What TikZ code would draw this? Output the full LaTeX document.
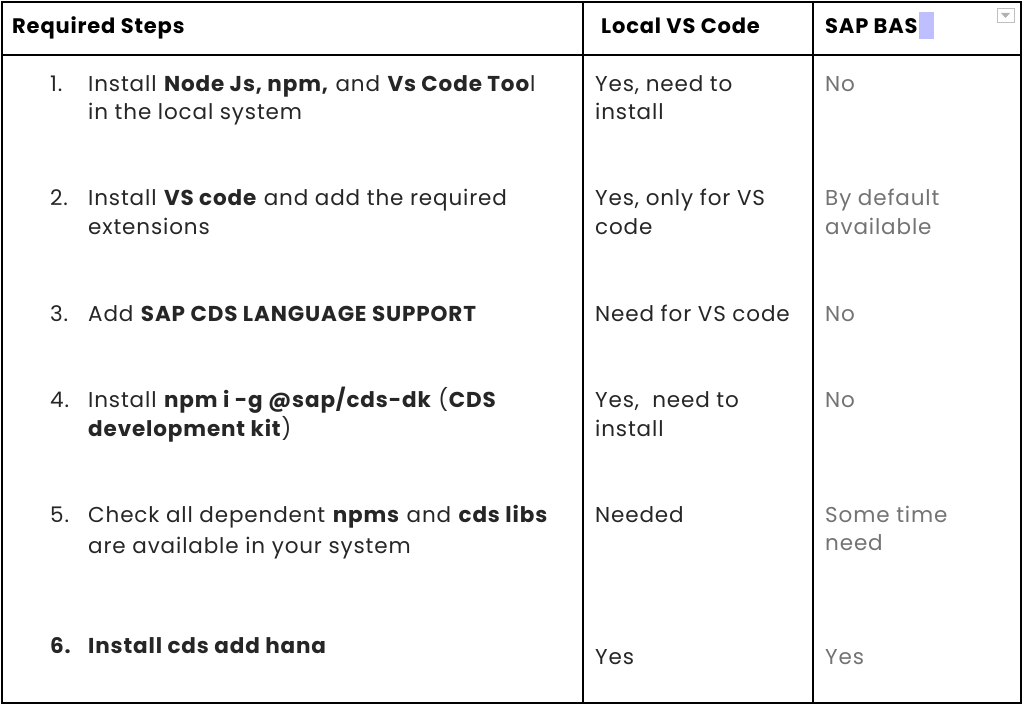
\documentclass[tikz,border=0pt]{standalone}
\usepackage{fontspec}
\setmainfont{Poppins}[LetterSpace=4]
\begin{document}
\begin{tikzpicture}[x=1pt,y=-1pt,
  txt/.style={anchor=base west,inner sep=0pt,font=\fontsize{21.5}{24}\selectfont,text=black!85},
  gr/.style={txt,text=black!55},
  hd/.style={txt,font=\fontsize{21}{24}\selectfont\bfseries,text=black}]
\useasboundingbox (0,0) rectangle (1024,706);
\fill[white] (0,0) rectangle (1024,706);
\draw[line width=1.5pt] (2,2) rectangle (1021,703);
\draw[line width=1.5pt] (2,55) -- (1021,55);
\draw[line width=1.5pt] (583,2) -- (583,703);
\draw[line width=1.5pt] (813,2) -- (813,703);
\draw[black!25] (997,8) rectangle (1014,22);
\fill[black!30] (1001,13) -- (1010,13) -- (1005.5,18) -- cycle;
\node[hd] (h1) at (12,34) {Required Steps};
\node[hd] (h2) at (601,34) {Local VS Code};
\node[hd] (h3) at (825,34) {SAP BAS};
\fill[blue!25] ([xshift=1pt]h3.base east) ++(0,-22) rectangle ++(15,27);
% row 1
\node[txt] (n1) at (50,92) {1.};
\node[txt] (a1) at (88,92) {Install \textbf{Node Js, npm,} and \textbf{Vs Code Too}l};
\node[txt] (a1b) at (88,120) {in the local system};
\node[txt] (b1) at (595,92) {Yes, need to};
\node[txt] (b1b) at (595,120) {install};
\node[gr] (c1) at (825,92) {No};
% row 2
\node[txt] (n2) at (50,205) {2.};
\node[txt] (a2) at (88,205) {Install \textbf{VS code} and add the required};
\node[txt] (a2b) at (88,234) {extensions};
\node[txt] (b2) at (595,205) {Yes, only for VS};
\node[txt] (b2b) at (595,234) {code};
\node[gr] (c2) at (825,205) {By default};
\node[gr] (c2b) at (825,234) {available};
% row 3
\node[txt] (n3) at (50,321) {3.};
\node[txt] (a3) at (88,321) {Add \textbf{SAP CDS LANGUAGE SUPPORT}};
\node[txt] (b3) at (595,321) {Need for VS code};
\node[gr] (c3) at (825,321) {No};
% row 4
\node[txt] (n4) at (50,407) {4.};
\node[txt] (a4) at (88,407) {Install \textbf{npm i -g @sap/cds-dk} (\textbf{CDS}};
\node[txt] (a4b) at (88,436) {\textbf{development kit})};
\node[txt] (b4) at (595,407) {Yes,\ \ need to};
\node[txt] (b4b) at (595,436) {install};
\node[gr] (c4) at (825,407) {No};
% row 5
\node[txt] (n5) at (50,522) {5.};
\node[txt] (a5) at (88,522) {Check all dependent \textbf{npms} and \textbf{cds libs}};
\node[txt] (a5b) at (88,553) {are available in your system};
\node[txt] (b5) at (595,522) {Needed};
\node[gr] (c5) at (825,522) {Some time};
\node[gr] (c5b) at (825,550) {need};
% row 6
\node[txt] (n6) at (50,653) {\textbf{6.}};
\node[txt] (a6) at (88,653) {\textbf{Install cds add hana}};
\node[txt] (b6) at (595,664) {Yes};
\node[gr] (c6) at (825,664) {Yes};
\end{tikzpicture}
\end{document}
